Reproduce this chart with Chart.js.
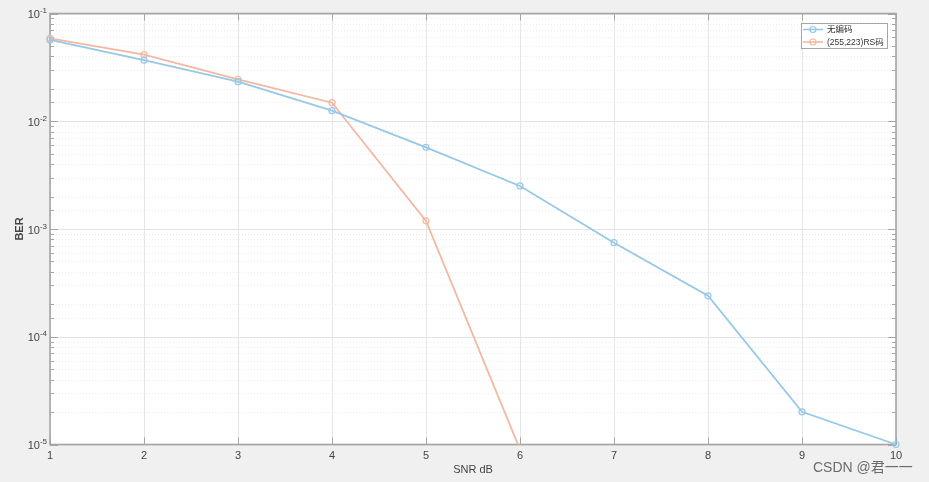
<!DOCTYPE html>
<html>
<head>
<meta charset="utf-8">
<script src="https://cdn.jsdelivr.net/npm/chart.js@4.4.1/dist/chart.umd.min.js"></script>
<style>
  html, body { margin: 0; padding: 0; background: #f0f0f0; }
  #wrap { position: relative; width: 929px; height: 482px; }
  #watermark { position: absolute; left: 813px; top: 456px; font: 14px "Liberation Sans", "Noto Sans CJK SC", sans-serif; color: #6a6a6a; white-space: nowrap; }
</style>
</head>
<body>
<div id="wrap">
  <canvas id="c" width="929" height="482"></canvas>
  <div id="watermark">CSDN @君一一</div>
</div>
<script>
// ---- data ----
const snrDb = [1, 2, 3, 4, 5, 6, 7, 8, 9, 10];
const berUncoded = [0.0568, 0.0370, 0.0233, 0.01253, 0.00573, 0.00251, 0.000746, 0.000240, 0.0000201, 0.0000100];
const berRS = [0.0589, 0.0415, 0.0245, 0.01486, 0.00119, 0.0000090];
const seriesLabels = ['无编码', '(255,223)RS码'];
const yDecadeExponents = [-5, -4, -3, -2, -1];
const xAxisTitle = 'SNR dB';
const yAxisTitle = 'BER';

const FONT = '"Liberation Sans", Arial, "Noto Sans CJK SC", sans-serif';
const BLUE = 'rgb(150,200,232)';
const ORANGE = 'rgb(242,184,162)';
const AXIS = '#a6a6a6';

function isDecade(v) {
  const l = Math.log10(v);
  return Math.abs(l - Math.round(l)) < 1e-6;
}

const matlabAxes = {
  id: 'matlabAxes',
  beforeDraw(chart) {
    const { ctx, chartArea: a } = chart;
    const xs = chart.scales.x, ys = chart.scales.y;
    ctx.save();
    ctx.fillStyle = '#ffffff';
    ctx.fillRect(a.left, a.top, a.right - a.left, a.bottom - a.top);
    ctx.lineWidth = 1;
    // vertical grid
    ctx.strokeStyle = '#e6e6e6';
    xs.ticks.forEach(t => {
      const px = Math.round(xs.getPixelForValue(t.value)) + 0.5;
      ctx.beginPath(); ctx.moveTo(px, a.top); ctx.lineTo(px, a.bottom); ctx.stroke();
    });
    // horizontal grid (major solid, minor dotted)
    ys.ticks.forEach(t => {
      const py = Math.round(ys.getPixelForValue(t.value)) + 0.5;
      if (isDecade(t.value)) {
        ctx.setLineDash([]);
        ctx.strokeStyle = '#e4e4e4';
      } else {
        ctx.setLineDash([1, 2]);
        ctx.strokeStyle = '#ebebeb';
      }
      ctx.beginPath(); ctx.moveTo(a.left, py); ctx.lineTo(a.right, py); ctx.stroke();
    });
    ctx.setLineDash([]);
    ctx.restore();
  },
  beforeDatasetsDraw(chart) {
    const { ctx, chartArea: a } = chart;
    const xs = chart.scales.x, ys = chart.scales.y;
    ctx.save();
    ctx.strokeStyle = AXIS;
    ctx.lineWidth = 1;
    // x ticks (bottom & top, inward)
    xs.ticks.forEach(t => {
      const px = Math.round(xs.getPixelForValue(t.value)) + 0.5;
      ctx.beginPath();
      ctx.moveTo(px, a.bottom); ctx.lineTo(px, a.bottom - 7);
      ctx.moveTo(px, a.top); ctx.lineTo(px, a.top + 7);
      ctx.stroke();
    });
    // y ticks (left & right, inward)
    ys.ticks.forEach(t => {
      const py = Math.round(ys.getPixelForValue(t.value)) + 0.5;
      const len = isDecade(t.value) ? 8 : 4;
      ctx.beginPath();
      ctx.moveTo(a.left, py); ctx.lineTo(a.left + len, py);
      ctx.moveTo(a.right, py); ctx.lineTo(a.right - len, py);
      ctx.stroke();
    });
    // box
    ctx.lineWidth = 1.6;
    ctx.strokeRect(a.left, a.top, a.right - a.left, a.bottom - a.top);
    ctx.restore();
  },
  afterDraw(chart) {
    const { ctx, chartArea: a } = chart;
    const ys = chart.scales.y;
    ctx.save();
    // y tick labels 10^n
    ctx.fillStyle = '#444444';
    ctx.textAlign = 'right';
    ctx.textBaseline = 'middle';
    yDecadeExponents.forEach(e => {
      const py = ys.getPixelForValue(Math.pow(10, e));
      const right = a.left - 3;
      ctx.font = '8px ' + FONT;
      const exp = String(e);
      const wExp = ctx.measureText(exp).width;
      ctx.fillText(exp, right, py - 2.5);
      ctx.font = '11px ' + FONT;
      ctx.fillText('10', right - wExp, py + 1.5);
    });
    // legend
    const bx = 801, by = 23, bw = 86, bh = 25;
    ctx.fillStyle = '#ffffff';
    ctx.fillRect(bx, by, bw, bh);
    ctx.strokeStyle = AXIS;
    ctx.lineWidth = 1;
    ctx.strokeRect(bx + 0.5, by + 0.5, bw, bh);
    ctx.textAlign = 'left';
    ctx.textBaseline = 'middle';
    ctx.font = '8.5px ' + FONT;
    chart.data.datasets.forEach((ds, i) => {
      const ry = by + 6.5 + i * 12.5;
      ctx.strokeStyle = ds.borderColor;
      ctx.lineWidth = 1.6;
      ctx.beginPath(); ctx.moveTo(bx + 2, ry); ctx.lineTo(bx + 22, ry); ctx.stroke();
      ctx.lineWidth = 1.2;
      ctx.beginPath(); ctx.arc(bx + 12, ry, 3, 0, Math.PI * 2); ctx.stroke();
      ctx.fillStyle = '#333333';
      ctx.fillText(ds.label, bx + 26, ry + 0.5);
    });
    ctx.restore();
  }
};

new Chart(document.getElementById('c'), {
  type: 'line',
  data: {
    datasets: [
      {
        label: seriesLabels[0],
        data: snrDb.map((x, i) => ({ x: x, y: berUncoded[i] })),
        borderColor: BLUE,
        borderWidth: 1.8,
        pointRadius: 3,
        pointBorderWidth: 1.2,
        pointBorderColor: BLUE,
        pointBackgroundColor: 'rgba(0,0,0,0)',
        tension: 0,
        clip: false
      },
      {
        label: seriesLabels[1],
        data: berRS.map((y, i) => ({ x: snrDb[i], y: y })),
        borderColor: ORANGE,
        borderWidth: 1.8,
        pointRadius: 3,
        pointBorderWidth: 1.2,
        pointBorderColor: ORANGE,
        pointBackgroundColor: 'rgba(0,0,0,0)',
        tension: 0,
        clip: { left: false, top: false, right: false, bottom: 0 }
      }
    ]
  },
  options: {
    responsive: false,
    devicePixelRatio: 1,
    animation: false,
    events: [],
    layout: { padding: { top: 13.5, right: 33, left: 0, bottom: 0 } },
    plugins: {
      legend: { display: false },
      tooltip: { enabled: false }
    },
    scales: {
      x: {
        type: 'linear',
        min: 1,
        max: 10,
        grid: { display: false, drawTicks: false },
        border: { display: false },
        ticks: {
          stepSize: 1,
          autoSkip: false,
          padding: 5,
          color: '#444444',
          font: { family: FONT, size: 11 }
        },
        title: {
          display: true,
          text: xAxisTitle,
          color: '#444444',
          font: { family: FONT, size: 11 },
          padding: { top: 0, bottom: 5 }
        },
        afterFit(scale) { scale.height = 37.5; }
      },
      y: {
        type: 'logarithmic',
        min: 1e-5,
        max: 1e-1,
        grid: { display: false, drawTicks: false },
        border: { display: false },
        ticks: { display: false, autoSkip: false },
        title: {
          display: true,
          text: yAxisTitle,
          color: '#444444',
          font: { family: FONT, size: 11, weight: 'bold' },
          padding: { top: 13, bottom: 0 }
        },
        afterFit(scale) { scale.width = 50; }
      }
    }
  },
  plugins: [matlabAxes]
});
</script>
</body>
</html>
